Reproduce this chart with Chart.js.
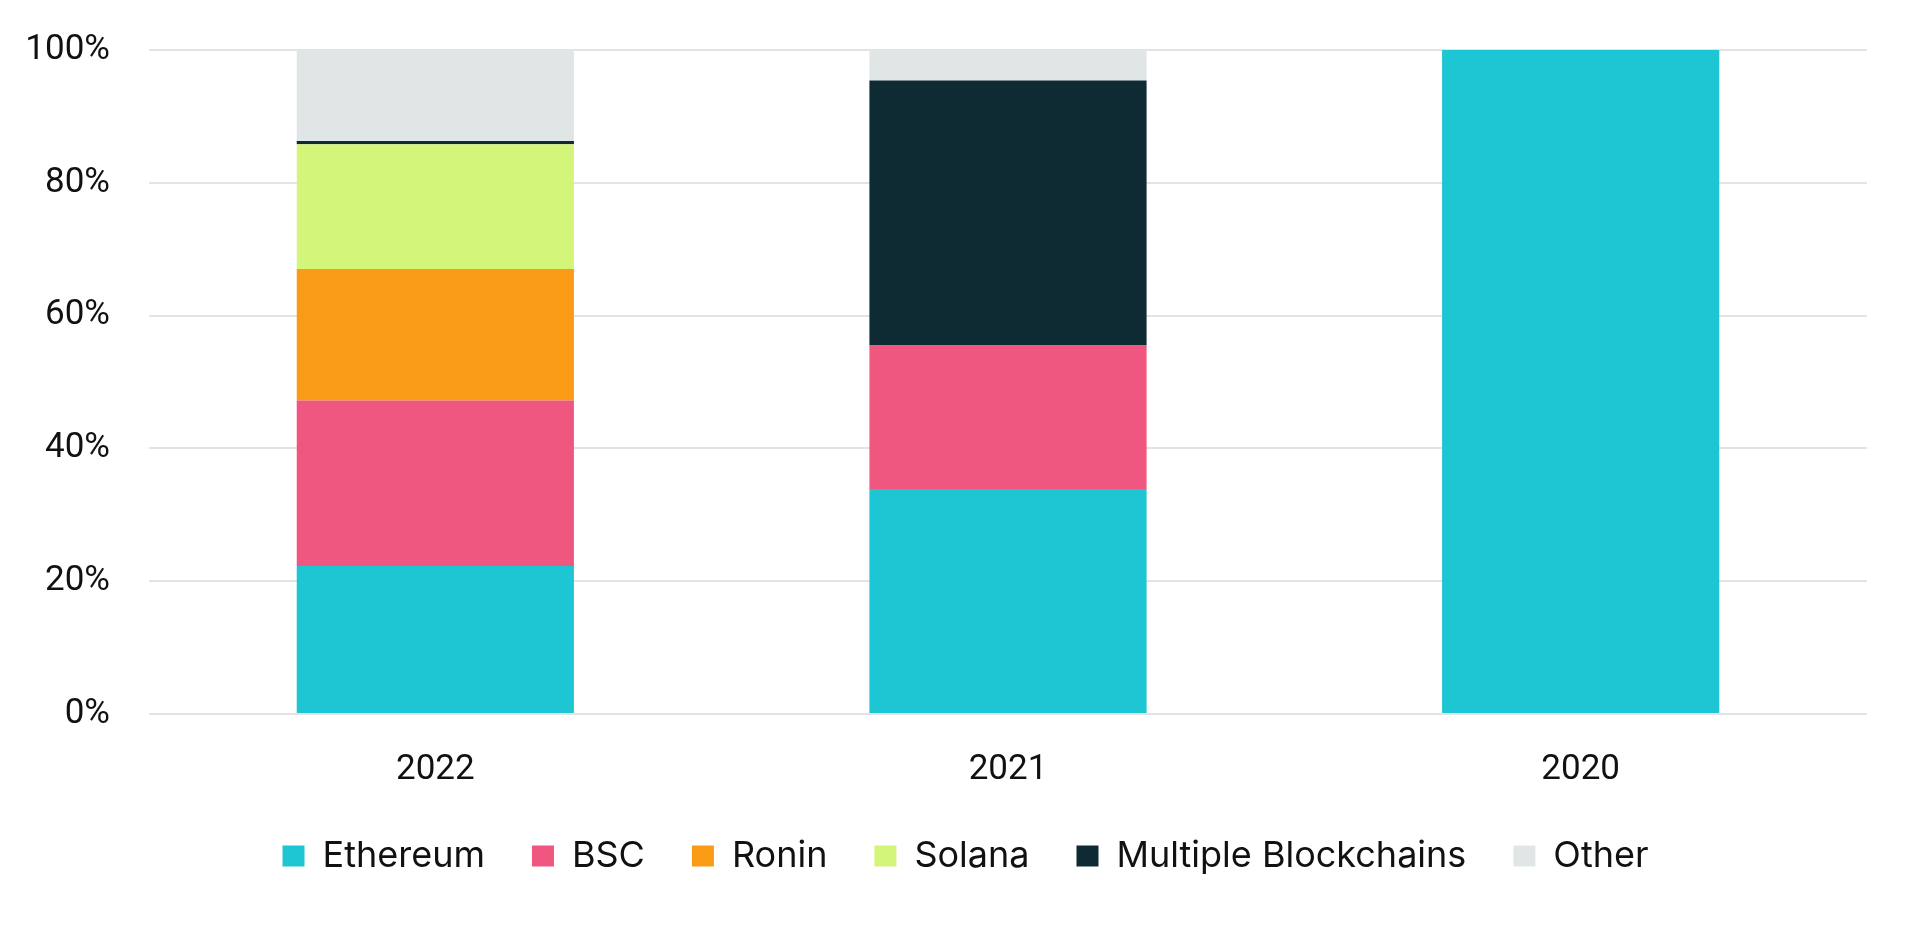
<!DOCTYPE html>
<html>
<head>
<meta charset="utf-8">
<script src="https://cdn.jsdelivr.net/npm/chart.js@4.4.0/dist/chart.umd.min.js"></script>
<style>
	html, body { margin: 0; padding: 0; background: #ffffff; }
	#wrap { width: 1920px; height: 930px; }
</style>
</head>
<body>
<div id="wrap"><canvas id="cnvChains" width="1920" height="930"></canvas></div>
<script>
var years = ["2022", "2021", "2020"];
var ethereum = [22.3, 33.9, 100];
var bsc = [24.9, 21.6, 0];
var ronin = [19.8, 0, 0];
var solana = [18.8, 0, 0];
var multipleChains = [0.5, 39.9, 0];
var other = [13.7, 4.6, 0];
var yTicks = [0, 20, 40, 60, 80, 100];

function serie(label, color, values){
	return {
		label: label,
		backgroundColor: color,
		borderWidth: 0,
		data: values
	};
}

var barChartData = {
	labels: years,
	datasets: [
		serie("Ethereum", "#1ec5d2", ethereum),
		serie("BSC", "#ef5780", bsc),
		serie("Ronin", "#fa9b15", ronin),
		serie("Solana", "#d2f57a", solana),
		serie("Multiple Blockchains", "#0e2a33", multipleChains),
		serie("Other", "#e0e6e6", other)
	]
};

// move the legend row a bit to the right, like the original
var legendShift = {
	id: "legendShift",
	afterLayout: function(chart){
		if (chart.legend) {
			chart.legend.left += 32;
			chart.legend.right += 32;
		}
	}
};

new Chart(document.getElementById("cnvChains").getContext("2d"), {
	type: "bar",
	data: barChartData,
	plugins: [legendShift],
	options: {
		responsive: false,
		animation: false,
		datasets: { bar: { categoryPercentage: 1, barPercentage: 0.484 } },
		layout: { padding: { top: 50, right: 53, bottom: 46, left: 0 } },
		plugins: {
			tooltip: { enabled: false },
			legend: {
				position: "bottom",
				labels: {
					font: { family: "Inter", size: 36 },
					color: "#111111",
					boxWidth: 22,
					boxHeight: 21,
					padding: 47
				}
			}
		},
		scales: {
			x: {
				stacked: true,
				grid: { display: false },
				border: { display: false },
				ticks: { font: { family: "Roboto", size: 35 }, color: "#111111", padding: 27 },
				afterFit: function(axis){ axis.height = 77; }
			},
			y: {
				stacked: true,
				min: 0,
				max: 100,
				afterBuildTicks: function(axis){
					axis.ticks = yTicks.map(function(v){ return { value: v }; });
				},
				afterFit: function(axis){
					axis.width = 149;
					axis.paddingTop = 20;
				},
				grid: { color: "#e3e3e3", lineWidth: 2, drawTicks: false },
				border: { display: false },
				ticks: {
					font: { family: "Roboto", size: 35 },
					color: "#111111",
					padding: 39,
					callback: function(v){ return v + "%"; }
				}
			}
		}
	}
});
</script>
</body>
</html>
